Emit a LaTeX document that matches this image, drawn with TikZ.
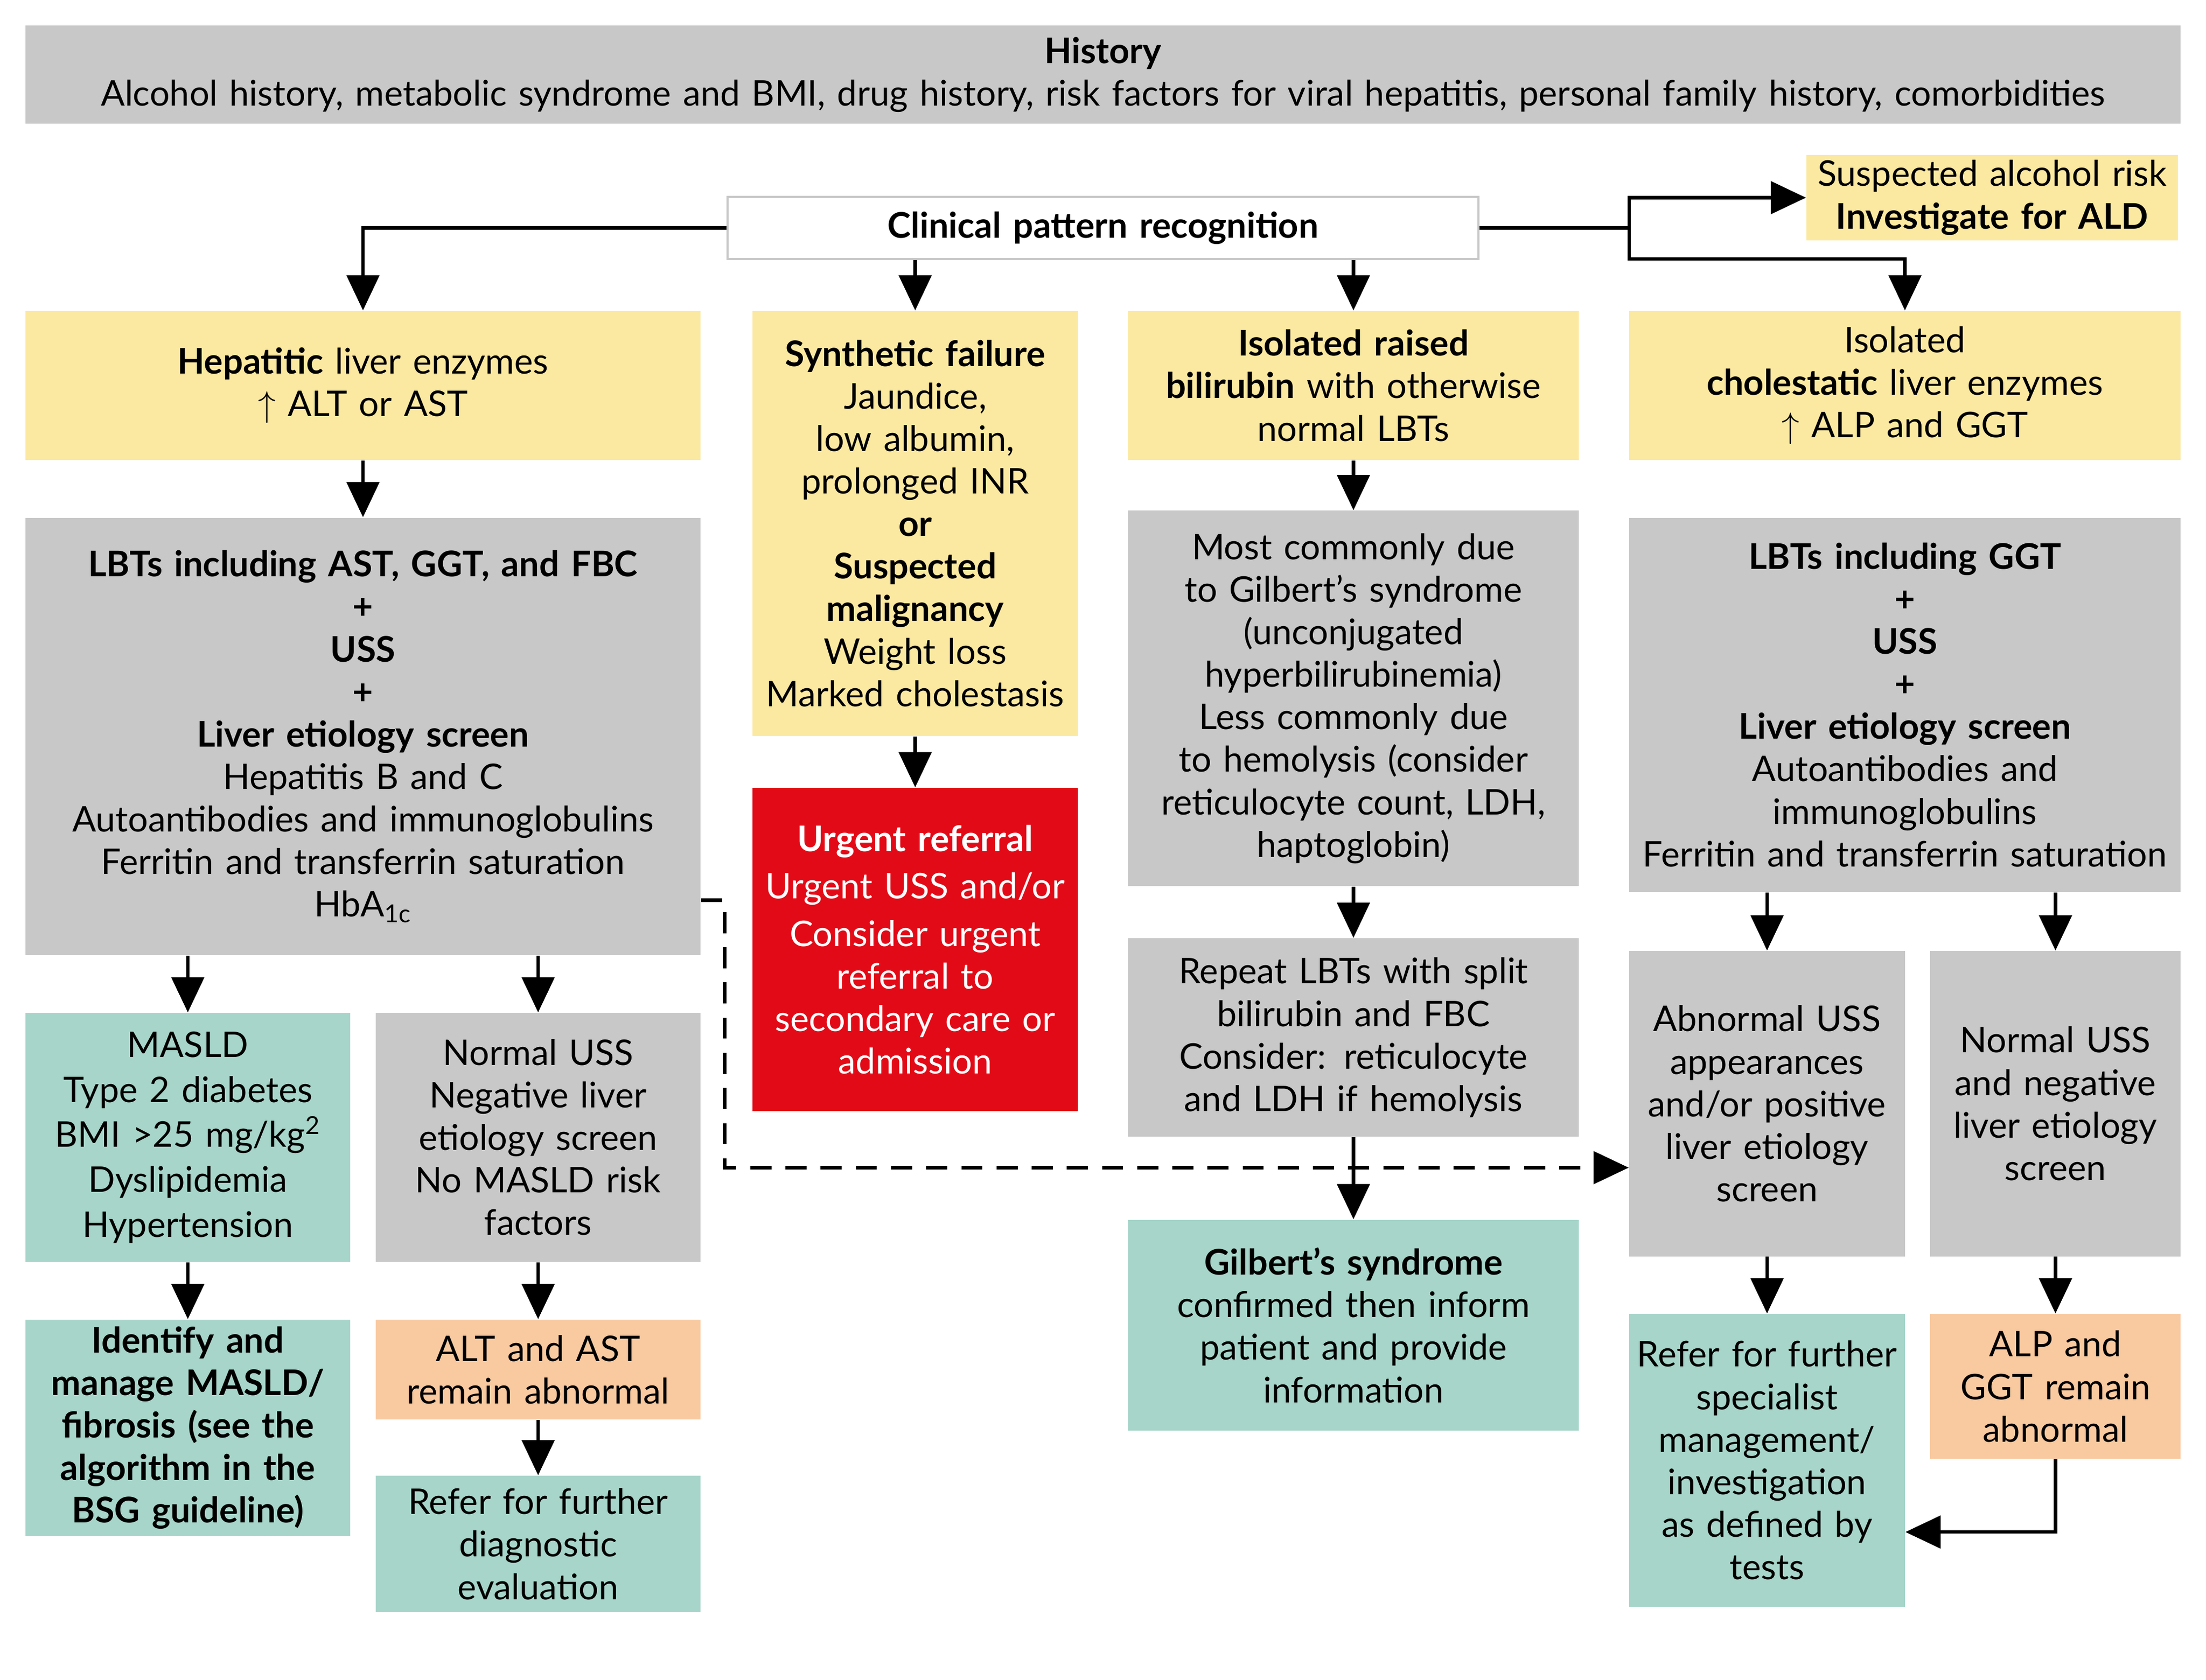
\documentclass[tikz,border=0pt]{standalone}
\usepackage{fontspec}
\setmainfont{Lato}
\usetikzlibrary{arrows.meta,calc}
\definecolor{cgray}{HTML}{C8C8C8}
\definecolor{cyel}{HTML}{FCE9A1}
\definecolor{cteal}{HTML}{A7D5C9}
\definecolor{corg}{HTML}{F9C9A0}
\definecolor{cred}{HTML}{E30A17}
\newcommand\bx[7]{%
\pgfmathsetmacro\bw{(#4-#2)*0.02}\pgfmathsetmacro\bh{(#5-#3)*0.02}\pgfmathsetmacro\tw{\bw-0.12}%
\node[box,#6,minimum width=\bw cm,minimum height=\bh cm,text width=\tw cm] (#1) at ({(#2+#4)/2},{(#3+#5)/2}) {#7};}
\begin{document}
\begin{tikzpicture}[x=0.02cm,y=-0.02cm,
 box/.style={inner xsep=0.06cm,inner ysep=0pt,align=center,font=\fontsize{14.3}{17.2}\selectfont},
 gb/.style={fill=cgray},yb/.style={fill=cyel},tb/.style={fill=cteal},ob/.style={fill=corg},
 rb/.style={fill=cred,text=white},
 arr/.style={line width=0.05cm,-{Triangle[length=0.5cm,width=0.46cm]}},
 ln/.style={line width=0.05cm}]
\useasboundingbox (0,0) rectangle (1568,1194);
\bx{hist}{18}{18}{1550}{88}{gb}{\textbf{History}\\Alcohol history, metabolic syndrome and BMI, drug history, risk factors for viral hepatitis, personal family history, comorbidities}
\bx{cp}{517}{140}{1051}{184}{fill=white,draw=cgray,line width=0.03cm}{\textbf{Clinical pattern recognition}}
\bx{alc}{1284}{110}{1548}{171}{yb}{Suspected alcohol risk\\\textbf{Investigate for ALD}}
\bx{hep}{18}{221}{498}{327}{yb}{\textbf{Hepatitic} liver enzymes\\$\uparrow$ ALT or AST}
\bx{syn}{535}{221}{766}{523}{yb}{\textbf{Synthetic failure}\\Jaundice,\\low albumin,\\prolonged INR\\\textbf{or}\\\textbf{Suspected}\\\textbf{malignancy}\\Weight loss\\Marked cholestasis}
\bx{bil}{802}{221}{1122}{327}{yb}{\textbf{Isolated raised}\\\textbf{bilirubin} with otherwise\\normal LBTs}
\bx{chol}{1158}{221}{1550}{327}{yb}{Isolated\\\textbf{cholestatic} liver enzymes\\$\uparrow$ ALP and GGT}
\bx{lbt}{18}{368}{498}{679}{gb}{\textbf{LBTs including AST, GGT, and FBC}\\\textbf{+}\\\textbf{USS}\\\textbf{+}\\\textbf{Liver etiology screen}\\Hepatitis B and C\\Autoantibodies and immunoglobulins\\Ferritin and transferrin saturation\\HbA\textsubscript{1c}}
\bx{urg}{535}{560}{766}{790}{rb}{\textbf{Urgent referral}\\[2pt]Urgent USS and/or\\[2pt]Consider urgent\\referral to\\secondary care or\\admission}
\bx{most}{802}{363}{1122}{630}{gb}{Most commonly due\\to Gilbert's syndrome\\(unconjugated\\hyperbilirubinemia)\\Less commonly due\\to hemolysis (consider\\reticulocyte count, LDH,\\haptoglobin)}
\bx{lbg}{1158}{368}{1550}{634}{gb}{\textbf{LBTs including GGT}\\\textbf{+}\\\textbf{USS}\\\textbf{+}\\\textbf{Liver etiology screen}\\Autoantibodies and\\immunoglobulins\\Ferritin and transferrin saturation}
\bx{masld}{18}{720}{249}{897}{tb}{MASLD\\[1pt]Type 2 diabetes\\[1pt]BMI >25 mg/kg\textsuperscript{2}\\[1pt]Dyslipidemia\\[1pt]Hypertension}
\bx{nuss}{267}{720}{498}{897}{gb}{Normal USS\\Negative liver\\etiology screen\\No MASLD risk\\factors}
\bx{rep}{802}{667}{1122}{808}{gb}{Repeat LBTs with split\\bilirubin and FBC\\Consider: reticulocyte\\and LDH if hemolysis}
\bx{abn}{1158}{676}{1354}{893}{gb}{Abnormal USS\\appearances\\and/or positive\\liver etiology\\screen}
\bx{nneg}{1372}{676}{1550}{893}{gb}{Normal USS\\and negative\\liver etiology\\screen}
\bx{iden}{18}{938}{249}{1092}{tb}{\textbf{Identify and}\\\textbf{manage MASLD/}\\\textbf{fibrosis (see the}\\\textbf{algorithm in the}\\\textbf{BSG guideline)}}
\bx{alt}{267}{938}{498}{1009}{ob}{ALT and AST\\remain abnormal}
\bx{refd}{267}{1049}{498}{1146}{tb}{Refer for further\\diagnostic\\evaluation}
\bx{gil}{802}{867}{1122}{1017}{tb}{\textbf{Gilbert's syndrome}\\confirmed then inform\\patient and provide\\information}
\bx{refs}{1158}{934}{1354}{1142}{tb}{Refer for further\\specialist\\management/\\investigation\\as defined by\\tests}
\bx{alp}{1372}{934}{1550}{1037}{ob}{ALP and\\GGT remain\\abnormal}
% connectors
\draw[arr] (cp.west) -| (hep.north);
\draw[arr] (cp.south -| syn.north) -- (syn.north);
\draw[arr] (cp.south -| bil.north) -- (bil.north);
\coordinate (j) at (1158,162);
\draw[ln] (cp.east) -- (j);
\draw[arr] (j) |- (alc.west);
\draw[arr] (j) -- ++(0,22) -| (chol.north);
\draw[arr] (hep.south) -- (lbt.north);
\draw[arr] (lbt.south -| masld.north) -- (masld.north);
\draw[arr] (lbt.south -| nuss.north) -- (nuss.north);
\draw[arr] (masld.south) -- (iden.north);
\draw[arr] (nuss.south) -- (alt.north);
\draw[arr] (alt.south) -- (refd.north);
\draw[arr] (syn.south) -- (urg.north);
\draw[arr] (bil.south) -- (most.north);
\draw[arr] (most.south) -- (rep.north);
\draw[arr] (rep.south) -- (gil.north);
\draw[arr] (lbg.south -| abn.north) -- (abn.north);
\draw[arr] (lbg.south -| nneg.north) -- (nneg.north);
\draw[arr] (abn.south) -- (refs.north);
\draw[arr] (nneg.south) -- (alp.north);
\coordinate (d1) at (515,640);
\coordinate (d2) at (0,830);
\draw[arr,dashed,dash pattern=on 0.3cm off 0.2cm] (lbt.east |- d1) -- (d1) |- (abn.west |- d2);
\coordinate (e1) at (0,1089);
\draw[arr] (alp.south) |- (refs.east |- e1);
\end{tikzpicture}
\end{document}
